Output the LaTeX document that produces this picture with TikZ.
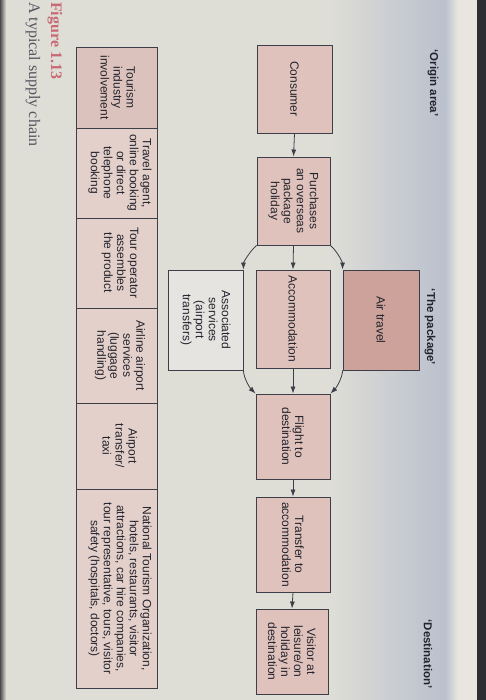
\documentclass[tikz,border=0pt]{standalone}
\usepackage{fontspec}
\setmainfont{Liberation Serif}
\setsansfont{Liberation Sans}
\usetikzlibrary{arrows.meta}
\definecolor{pagebg}{RGB}{222,222,215}
\definecolor{bandc}{RGB}{186,192,205}
\definecolor{edgelight}{RGB}{232,230,222}
\definecolor{darkedge}{RGB}{45,45,50}
\definecolor{boxfill}{RGB}{224,194,188}
\definecolor{boxdark}{RGB}{204,162,154}
\definecolor{assocfill}{RGB}{230,228,224}
\definecolor{cellfill}{RGB}{228,208,202}
\definecolor{cellfirst}{RGB}{220,194,188}
\definecolor{linec}{RGB}{60,62,72}
\definecolor{txtc}{RGB}{35,35,45}
\definecolor{figred}{RGB}{200,105,115}
\definecolor{capc}{RGB}{85,85,95}
\begin{document}
\begin{tikzpicture}[x=1pt,y=1pt,
  flowbox/.style={draw=linec, line width=0.9pt, fill=boxfill, inner sep=1pt, align=center, text=txtc, font=\sffamily\fontsize{12}{13}\selectfont},
  headlab/.style={text=txtc, font=\sffamily\bfseries\fontsize{11.5}{13}\selectfont, inner sep=0pt},
  celltext/.style={text=txtc, align=center, font=\sffamily\fontsize{12}{13}\selectfont, inner sep=0pt},
  arr/.style={draw=linec, line width=0.8pt, -{Latex[length=7pt,width=5pt]}},
  tablecell/.style={draw=linec, line width=0.8pt},
]
\useasboundingbox (0,0) rectangle (486,-700);
% photographed page background
\fill[pagebg] (0,0) rectangle (486,-700);
\shade[left color=pagebg, right color=bandc] (330,0) rectangle (445,-700);
\shade[left color=bandc, right color=edgelight] (445,0) rectangle (458,-700);
\fill[edgelight] (458,0) rectangle (477,-700);
\fill[darkedge] (477,0) rectangle (486,-700);
\shade[left color=gray!60!black, right color=pagebg] (0,0) rectangle (6,-700);

\begin{scope}[rotate=-90, transform shape]
% page coordinates (u,v): u = image y downwards, v = image x
% table
\filldraw[tablecell, fill=cellfirst] (47,76) rectangle (128,157);
\filldraw[tablecell, fill=cellfill] (128,76) rectangle (218,157);
\filldraw[tablecell, fill=cellfill] (218,76) rectangle (308,157);
\filldraw[tablecell, fill=cellfill] (308,76) rectangle (403,157);
\filldraw[tablecell, fill=cellfill] (403,76) rectangle (489,157);
\filldraw[tablecell, fill=cellfill] (489,76) rectangle (688,157);
\node[celltext] (c1) at (87.5,118) {Tourism\\industry\\involvement};
\node[celltext] (c2) at (173,120) {Travel agent,\\online booking\\or direct\\telephone\\booking};
\node[celltext] (c3) at (263,120) {Tour operator\\assembles\\the product};
\node[celltext] (c4) at (355.5,120) {Airline airport\\services\\(luggage\\handling)};
\node[celltext] (c5) at (446,120) {Airport\\transfer/\\taxi};
\node[celltext] (c6) at (588.5,120) {National Tourism Organization,\\hotels, restaurants, visitor\\attractions, car hire companies,\\tour representative, tours, visitor\\safety (hospitals, doctors)};

% boxes
\node[flowbox, minimum width=88, minimum height=75] (consumer) at (89,294.5) {Consumer};
\node[flowbox, minimum width=88, minimum height=73] (purchases) at (201,293.5) {Purchases\\an overseas\\package\\holiday};
\node[flowbox, fill=boxdark, minimum width=100, minimum height=76] (air) at (320,381) {Air travel};
\node[flowbox, minimum width=98, minimum height=74] (accom) at (319,293) {Accommodation};
\node[flowbox, fill=assocfill, minimum width=100, minimum height=75] (assoc) at (320,205.5) {Associated\\services\\(airport\\transfers)};
\node[flowbox, minimum width=85, minimum height=74] (flight) at (436.5,293) {Flight to\\destination};
\node[flowbox, minimum width=95, minimum height=74] (transfer) at (544.5,293) {Transfer to\\accommodation};
\node[flowbox, minimum width=85, minimum height=72] (visitor) at (651.5,292) {Visitor at\\leisure/on\\holiday in\\destination};

% headings
\node[headlab] (originlab) at (83,433) {`Origin area'};
\node[headlab] (packlab) at (327,430) {`The package'};
\node[headlab] (destlab) at (654,428) {`Destination'};

% caption
\node[anchor=west, font=\rmfamily\bfseries\fontsize{16}{16}\selectfont, text=figred, inner sep=0pt] (fig) at (2,55) {Figure 1.13};
\node[anchor=west, font=\rmfamily\fontsize{16}{16}\selectfont, text=capc, inner sep=0pt] (cap) at (2,33) {A typical supply chain};

% connectors
\draw[arr] (consumer.east) -- (purchases.west);
\draw[arr] (purchases.east) -- (accom.west);
\draw[arr] (accom.east) -- (flight.west);
\draw[arr] (flight.east) -- (transfer.west);
\draw[arr] (transfer.east) -- (visitor.west);
\draw[arr] (purchases.south east) .. controls +(6,-7) and +(-7,0) .. (assoc.north west);
\draw[arr] (purchases.north east) .. controls +(6,7) and +(-7,0) .. (air.south west);
\draw[arr] (assoc.north east) .. controls +(7,0) and +(-6,-6) .. (flight.south west);
\draw[arr] (air.south east) .. controls +(7,0) and +(-6,6) .. (flight.north west);
\end{scope}
\end{tikzpicture}
\end{document}
